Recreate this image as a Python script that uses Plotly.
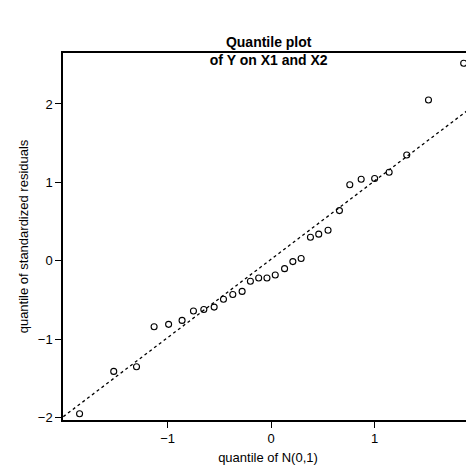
import plotly.graph_objects as go

x_q = [-1.85, -1.52, -1.30, -1.13, -0.99, -0.86, -0.75, -0.65, -0.55, -0.46, -0.37, -0.28,
       -0.20, -0.12, -0.04, 0.04, 0.13, 0.21, 0.29, 0.38, 0.46, 0.55, 0.66, 0.76, 0.87,
       1.00, 1.14, 1.31, 1.52, 1.86]
y_res = [-1.95, -1.41, -1.35, -0.84, -0.81, -0.76, -0.64, -0.62, -0.59, -0.49, -0.43, -0.39,
         -0.26, -0.22, -0.22, -0.18, -0.10, -0.01, 0.03, 0.30, 0.34, 0.39, 0.64, 0.97, 1.04,
         1.05, 1.13, 1.35, 2.05, 2.52]
line_x = [-2.1, 2.05]
line_y = [-2.08, 2.07]

fig = go.Figure()
fig.add_trace(go.Scatter(x=line_x, y=line_y, mode="lines",
                         line=dict(color="black", width=1.3, dash="dot"), hoverinfo="skip"))
fig.add_trace(go.Scatter(x=x_q, y=y_res, mode="markers",
                         marker=dict(symbol="circle-open", size=6, color="black",
                                     line=dict(width=1.1, color="black"))))
ax = dict(showgrid=False, zeroline=False, showline=True, mirror=True, linecolor="black",
          linewidth=1.5, ticks="outside", ticklen=6, tickcolor="black",
          tickfont=dict(size=13, color="black"))
fig.update_layout(
    width=474, height=474, showlegend=False, plot_bgcolor="white", paper_bgcolor="white",
    font=dict(family="Liberation Sans, Arial", color="black"),
    margin=dict(l=55, r=7, t=45, b=62),
    title=dict(text="<b>Quantile plot<br>of Y on X1 and X2</b>", x=0.55, xanchor="center",
               yref="paper", y=1.0, yanchor="bottom", pad=dict(b=6), font=dict(size=14)),
    xaxis=dict(ax, range=[-2.01, 1.95], tickvals=[-1, 0, 1], tickformat="d",
               title=dict(text="quantile of N(0,1)", font=dict(size=13), standoff=8)),
    yaxis=dict(ax, range=[-2.03, 2.65], tickvals=[-2, -1, 0, 1, 2],
               title=dict(text="quantile of standardized residuals", font=dict(size=13), standoff=6)),
)
fig.write_html("out.html")
